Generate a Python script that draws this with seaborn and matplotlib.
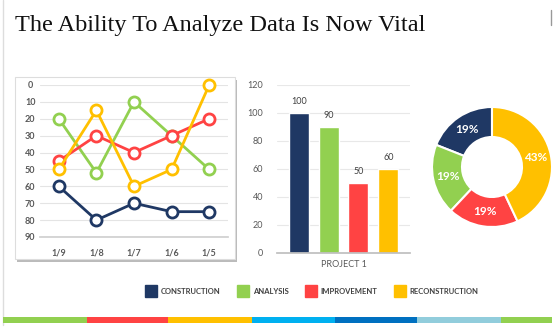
import matplotlib
matplotlib.use("Agg")
import matplotlib.pyplot as plt
from matplotlib.patches import Rectangle
from matplotlib.lines import Line2D
import seaborn as sns
import pandas as pd

# ---- data ----
series = ["CONSTRUCTION", "ANALYSIS", "IMPROVEMENT", "RECONSTRUCTION"]
colors = ["#1F3864", "#92D050", "#FF4343", "#FFC000"]
dates = ["1/9", "1/8", "1/7", "1/6", "1/5"]
construction = [60, 80, 70, 75, 75]
analysis = [20, 52, 10, 30, 50]
improvement = [45, 30, 40, 30, 20]
reconstruction = [50, 15, 60, 50, 0]
bar_category = ["PROJECT 1"]
bar_values = [100, 90, 50, 60]
pie_values = [19, 19, 19, 43]
stripe_colors = ["#92D050", "#FF4343", "#FFC000", "#00B0F0", "#0070C0", "#92CDDC", "#92D050"]
title = "The Ability To Analyze Data Is Now Vital"

sns.set_theme(style="white")
plt.rcParams["font.family"] = ["Lato", "DejaVu Sans"]

W, H = 560, 330
fig = plt.figure(figsize=(W / 100, H / 100), dpi=100)
fig.patch.set_facecolor("white")

def fx(px):
    return px / W

def fy(py):
    return 1 - py / H

# page border line at left
fig.add_artist(Line2D([fx(3), fx(3)], [fy(0), fy(325)], color="#DDDDDD", lw=1, transform=fig.transFigure, zorder=-3))
fig.add_artist(Line2D([fx(551), fx(551)], [fy(10), fy(25)], color="#999999", lw=1, transform=fig.transFigure, zorder=-3))

# title
fig.text(fx(15), fy(25), title, fontsize=17.5, family="Liberation Serif", color="#111111",
         va="center", ha="left", fontweight="normal")

# line panel with shadow
fig.add_artist(Rectangle((fx(17), fy(262)), fx(220), (182) / H, transform=fig.transFigure,
                         facecolor="#BBBBBB", edgecolor="none", zorder=-2))
fig.add_artist(Rectangle((fx(15), fy(259)), fx(220), (182) / H, transform=fig.transFigure,
                         facecolor="white", edgecolor="#DDDDDD", lw=0.8, zorder=-1))

# ---- line chart ----
ax1 = fig.add_axes([fx(40), fy(237), fx(188), 152 / H])
ax1.set_facecolor("none")
line_data = [construction, analysis, improvement, reconstruction]
for name, vals, c in zip(series, line_data, colors):
    df = pd.DataFrame({"date": dates, "value": vals})
    sns.lineplot(data=df, x="date", y="value", sort=False, color=c, lw=2,
                 marker="o", markersize=8, markerfacecolor="white", markeredgecolor=c,
                 markeredgewidth=2, ax=ax1, zorder=3, clip_on=False)
ax1.set_ylim(90, 0)
ax1.set_xlim(-0.5, 4.5)
ax1.set_yticks(range(0, 91, 10))
ax1.yaxis.grid(True, color="#E4E4E4", lw=0.8)
ax1.set_xlabel("")
ax1.set_ylabel("")
for s in ["top", "right", "left"]:
    ax1.spines[s].set_visible(False)
ax1.spines["bottom"].set_color("#D0D0D0")
ax1.tick_params(axis="both", labelsize=6.5, labelcolor="#595959", length=0, pad=8)
ax1.tick_params(axis="y", pad=7)
for lab in ax1.get_xticklabels() + ax1.get_yticklabels():
    lab.set_fontweight("bold")
    if lab in ax1.get_yticklabels():
        lab.set_horizontalalignment("center")
ax1.set_xticks([x + 0.5 for x in range(-1, 5)], minor=True)
ax1.tick_params(axis="x", which="minor", length=4, color="#D0D0D0")

# ---- bar chart ----
ax2 = fig.add_axes([fx(277), fy(252.7), fx(133), 167.7 / H])
bdf = pd.DataFrame({"project": bar_category * 4, "series": series, "value": bar_values})
sns.barplot(data=bdf, x="project", y="value", hue="series", palette=colors, gap=0.33,
            legend=False, ax=ax2, saturation=1)
ax2.set_xlim(-0.445, 0.445)
ax2.set_ylim(0, 120)
ax2.set_yticks(range(0, 121, 20))
ax2.yaxis.grid(True, color="#E8E8E8", lw=0.8)
ax2.set_axisbelow(True)
ax2.set_xlabel("")
ax2.set_ylabel("")
for s in ["top", "right", "left"]:
    ax2.spines[s].set_visible(False)
ax2.spines["bottom"].set_color("#BFBFBF")
ax2.tick_params(axis="both", labelsize=6.5, labelcolor="#595959", length=0)
ax2.tick_params(axis="y", pad=10)
ax2.tick_params(axis="x", pad=5)
for cont in ax2.containers:
    ax2.bar_label(cont, padding=5, fontsize=6.5, color="#404040")

# ---- donut ----
ax3 = fig.add_axes([fx(432), fy(227), fx(120), 120 / H])
ax3.pie(pie_values, colors=colors, startangle=90, counterclock=True, radius=1,
        wedgeprops=dict(width=0.5, edgecolor="white", linewidth=1.5),
        autopct=lambda p: f"{p:.0f}%", pctdistance=0.75,
        textprops=dict(color="white", fontsize=8.5, fontweight="bold"))
ax3.set_xlim(-1, 1)
ax3.set_ylim(-1, 1)
ax3.set_aspect("equal")
ax3.axis("off")

# ---- legend ----
handles = [Line2D([0], [0], marker="s", color="none", markerfacecolor=c, markeredgecolor=c,
                  markersize=9, label=n) for n, c in zip(series, colors)]
leg = fig.legend(handles=handles, loc="center", bbox_to_anchor=(fx(313), fy(291)), ncol=4,
                 frameon=False, handlelength=1.0, handletextpad=0.8, columnspacing=2.4,
                 prop=dict(size=5.5, weight="bold"))
for t in leg.get_texts():
    t.set_color("#404040")

# ---- bottom stripe ----
bounds = [3, 87, 168, 252, 335, 417, 501, 552]
for i, c in enumerate(stripe_colors):
    fig.add_artist(Rectangle((fx(bounds[i]), fy(323)), fx(bounds[i + 1] - bounds[i]), 6 / H,
                             transform=fig.transFigure, facecolor=c, edgecolor="none"))

fig.savefig("out.png", dpi=100, facecolor="white")
